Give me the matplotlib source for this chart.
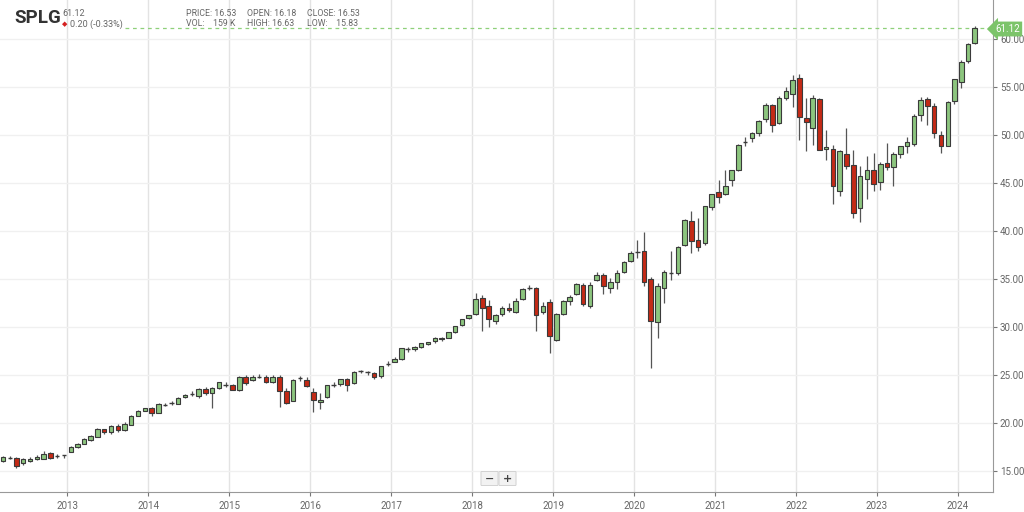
import matplotlib
matplotlib.use("Agg")
import matplotlib.pyplot as plt
import matplotlib.dates as mdates
from matplotlib.patches import Rectangle, FancyBboxPatch
import datetime as dt

start_year, start_month = 2012, 3
opens = [16.08,16.40,16.32,15.80,16.07,16.28,16.29,16.84,16.57,16.63,
         17.02,17.47,17.81,18.23,18.58,19.34,19.06,19.69,19.30,19.83,20.73,21.22,
         21.60,21.08,21.86,22.03,22.02,22.67,23.04,22.81,23.54,23.16,23.60,23.98,
         23.96,23.40,24.83,24.45,24.81,24.83,24.30,24.83,23.30,22.33,24.67,24.50,
         23.26,22.20,22.67,23.93,24.06,24.58,24.20,25.38,25.33,25.24,24.90,26.18,
         26.40,26.70,27.73,27.70,27.90,28.20,28.50,28.90,28.85,29.50,30.20,30.90,
         31.30,33.05,32.20,30.66,31.40,32.00,31.60,32.90,34.02,34.10,31.60,32.60,
         28.60,31.35,32.70,33.40,34.40,32.20,34.90,35.40,34.10,34.65,35.70,36.90,
         37.80,37.90,34.96,30.50,34.10,35.62,35.60,38.50,41.00,39.05,38.70,42.50,
         44.10,43.80,45.30,46.40,49.26,49.65,50.20,51.70,53.10,51.20,53.90,54.30,
         55.90,51.80,50.70,53.75,48.50,48.50,44.20,48.00,46.90,42.40,45.40,46.40,
         45.07,47.10,46.70,48.00,48.80,49.10,52.10,53.70,53.00,50.00,48.85,53.50,
         55.50,57.70,59.60]
closes = [16.43,16.38,15.56,16.23,16.27,16.43,16.77,16.40,16.59,16.65,
          17.50,17.81,18.34,18.61,19.34,19.06,19.72,19.27,19.86,20.73,21.29,21.56,
          21.08,21.98,21.90,22.06,22.61,22.95,23.07,23.54,23.09,23.61,24.24,23.96,
          23.47,24.79,24.17,24.79,24.84,24.24,24.76,23.37,22.05,24.48,24.69,23.85,
          22.40,22.40,23.95,23.96,24.55,24.00,25.35,25.40,25.35,24.80,25.90,26.21,
          26.70,27.80,27.75,27.95,28.30,28.40,28.90,28.75,29.44,30.10,30.80,31.20,
          32.90,32.00,30.80,31.20,32.00,31.80,32.70,34.00,34.04,31.25,32.20,29.10,
          31.30,32.70,33.15,34.50,32.35,34.40,35.40,34.30,34.65,35.60,36.80,37.70,
          37.85,34.70,30.66,34.30,35.70,35.66,38.30,41.10,39.00,38.30,42.60,43.85,
          43.50,44.65,46.30,49.00,49.30,50.25,51.50,53.10,51.00,53.90,54.60,55.70,
          51.90,51.40,53.80,48.40,48.75,44.65,48.30,46.80,41.90,45.70,46.40,44.90,
          47.00,46.70,48.00,48.80,49.30,52.00,53.60,53.00,50.20,48.85,53.40,55.80,
          57.60,59.50,61.12]
highs = [16.60,16.55,16.45,16.35,16.45,16.65,17.10,16.95,16.80,16.70,
         17.55,17.90,18.40,18.70,19.50,19.40,19.80,19.90,20.10,20.80,21.40,21.60,
         21.70,22.10,22.10,22.30,22.70,23.00,23.30,23.65,23.70,23.70,24.30,24.30,
         24.10,24.85,24.95,24.95,25.15,24.95,24.95,24.95,23.60,24.55,24.90,24.75,
         23.60,23.10,24.00,24.25,24.60,24.70,25.45,25.50,25.40,25.35,25.95,26.45,
         26.90,27.85,27.95,28.00,28.35,28.45,29.00,29.00,29.50,30.15,30.85,31.25,
         33.50,33.30,32.80,31.40,32.20,32.50,33.00,34.10,34.35,34.20,32.60,32.90,
         31.50,32.80,33.35,34.55,34.55,34.65,35.70,35.60,35.10,35.90,36.85,37.90,
         39.10,39.90,35.20,34.60,35.90,37.90,38.40,41.20,42.10,41.40,42.60,43.90,
         45.30,46.30,46.40,49.10,49.80,50.30,51.60,53.30,53.20,54.10,55.00,56.20,
         56.30,53.80,54.20,53.90,50.50,49.00,48.40,50.70,48.40,46.80,47.80,48.10,
         47.20,49.20,48.20,48.90,49.80,52.20,54.00,54.00,53.30,50.40,53.50,55.80,
         57.80,59.60,61.40]
lows = [15.95,16.20,15.30,15.60,15.95,16.15,16.20,16.25,16.30,16.40,
        16.95,17.40,17.80,18.15,18.50,18.80,18.90,19.10,19.20,19.80,20.70,21.20,
        20.70,21.00,21.80,21.85,21.95,22.60,22.80,22.60,22.95,21.60,23.55,23.75,
        23.40,23.35,24.00,24.40,24.70,24.15,24.20,21.70,22.00,22.30,24.40,23.70,
        21.10,21.50,22.60,23.70,23.90,23.30,24.10,25.20,25.00,24.60,24.70,25.90,
        26.30,26.60,27.40,27.50,27.80,28.10,28.30,28.55,28.80,29.40,30.10,30.80,
        31.20,29.60,30.00,30.30,31.10,31.60,31.50,32.80,33.80,29.60,31.40,27.30,
        28.50,31.20,32.30,33.30,32.20,32.00,34.80,33.40,33.50,34.00,35.60,36.80,
        37.20,34.30,25.70,28.80,32.50,34.90,35.40,38.40,37.70,37.90,38.50,42.20,
        42.90,43.70,44.70,46.20,48.90,49.30,49.90,51.30,50.30,51.10,53.60,52.90,
        49.50,48.30,49.00,48.40,47.40,42.80,43.60,46.50,41.40,40.90,43.30,44.20,
        44.30,46.40,44.70,47.60,48.10,48.90,51.50,51.00,49.70,48.10,48.80,53.20,
        54.90,57.50,59.50]

GREEN = "#8cc57e"
RED = "#c42a16"
EDGE = "#3a3a3a"

fig = plt.figure(figsize=(10.24, 5.12), dpi=100)
ax = fig.add_axes([0, 20/512, 993/1024, 492/512])
ax.set_facecolor("white")

dates = []
for i in range(len(closes)):
    m = start_month - 1 + i
    dates.append(dt.date(start_year + m // 12, m % 12 + 1, 16))
xs = mdates.date2num(dates)
w = 20
for x, o, h, l, c in zip(xs, opens, highs, lows, closes):
    col = GREEN if c >= o else RED
    ax.vlines(x, l, h, color="#555555", lw=0.9, zorder=2)
    b, t = min(o, c), max(o, c)
    if t - b < 0.06:
        ax.hlines((o + c) / 2, x - w / 2, x + w / 2, color=EDGE, lw=1.0, zorder=3)
    else:
        ax.add_patch(Rectangle((x - w / 2, b), w, t - b, facecolor=col,
                               edgecolor=EDGE, lw=0.8, zorder=3))

xmin = mdates.date2num(dt.date(2012, 3, 3))
xmax = mdates.date2num(dt.date(2024, 6, 7))
ax.set_xlim(xmin, xmax)
ax.set_ylim(12.81, 64.06)

ax.xaxis.set_major_locator(mdates.YearLocator())
ax.xaxis.set_major_formatter(mdates.DateFormatter("%Y"))
ax.set_yticks([15, 20, 25, 30, 35, 40, 45, 50, 55, 60])
ax.yaxis.tick_right()
ax.yaxis.set_major_formatter(plt.FuncFormatter(lambda v, p: f"{v:.2f}"))
ax.tick_params(axis="both", labelsize=7, colors="#777777", length=3)
ax.tick_params(axis="y", pad=2, length=3)
for lab in ax.get_xticklabels() + ax.get_yticklabels():
    lab.set_color("#666666")
    lab.set_family("Roboto")
ax.grid(True, axis="x", color="#e3e3e3", lw=1.0)
ax.grid(True, axis="y", color="#f0f0f0", lw=1.0)
ax.set_axisbelow(True)
for s in ["top", "left"]:
    ax.spines[s].set_visible(False)
ax.spines["right"].set_color("#999999")
ax.spines["bottom"].set_color("#999999")

last = closes[-1]
ax.axhline(last, xmin=125/993, xmax=1, color="#8fd07a", lw=0.9, ls=(0, (3, 3)), zorder=1)
fig.text(995/1024, 1 - 29/512, f"{last:.2f}", fontsize=7, color="white",
         va="center", ha="left", family="Roboto",
         bbox=dict(boxstyle="larrow,pad=0.25", fc="#7cc46a", ec="none"))

fig.text(14/1024, 1 - 18/512, "SPLG", fontsize=13.5, fontweight="bold", color="#333333",
         va="center", family="Roboto")
fig.text(62/1024, 1 - 13/512, f"{last:.2f}", fontsize=6.5, color="#666666", va="center",
         family="Roboto")
fig.text(62/1024, 1 - 24/512, "\u25C6", fontsize=5, color="#d42020", va="center")
fig.text(70/1024, 1 - 24/512, "0.20 (-0.33%)", fontsize=6.5, color="#666666", va="center",
         family="Roboto")
hdr = [(186, 13, "PRICE: 16.53"), (186, 24, "VOL:    159 K"),
       (247, 13, "OPEN: 16.18"), (247, 24, "HIGH: 16.63"),
       (307, 13, "CLOSE: 16.53"), (307, 24, "LOW:    15.83")]
for x, y, t in hdr:
    fig.text(x/1024, 1 - y/512, t, fontsize=6.3, color="#666666", va="center",
             family="Roboto")

for bx, s in [(482, "\u2212"), (500, "+")]:
    fig.patches.append(FancyBboxPatch((bx/1024, 1 - 485/512), 15/1024, 13/512,
                                      boxstyle="round,pad=0.001", fc="#f2f2f2",
                                      ec="#cccccc", lw=0.6, transform=fig.transFigure))
    fig.text((bx + 7.5)/1024, 1 - 478.5/512, s, fontsize=8, fontweight="bold",
             color="#444444", ha="center", va="center")

fig.savefig("out.png", dpi=100, facecolor="white")
